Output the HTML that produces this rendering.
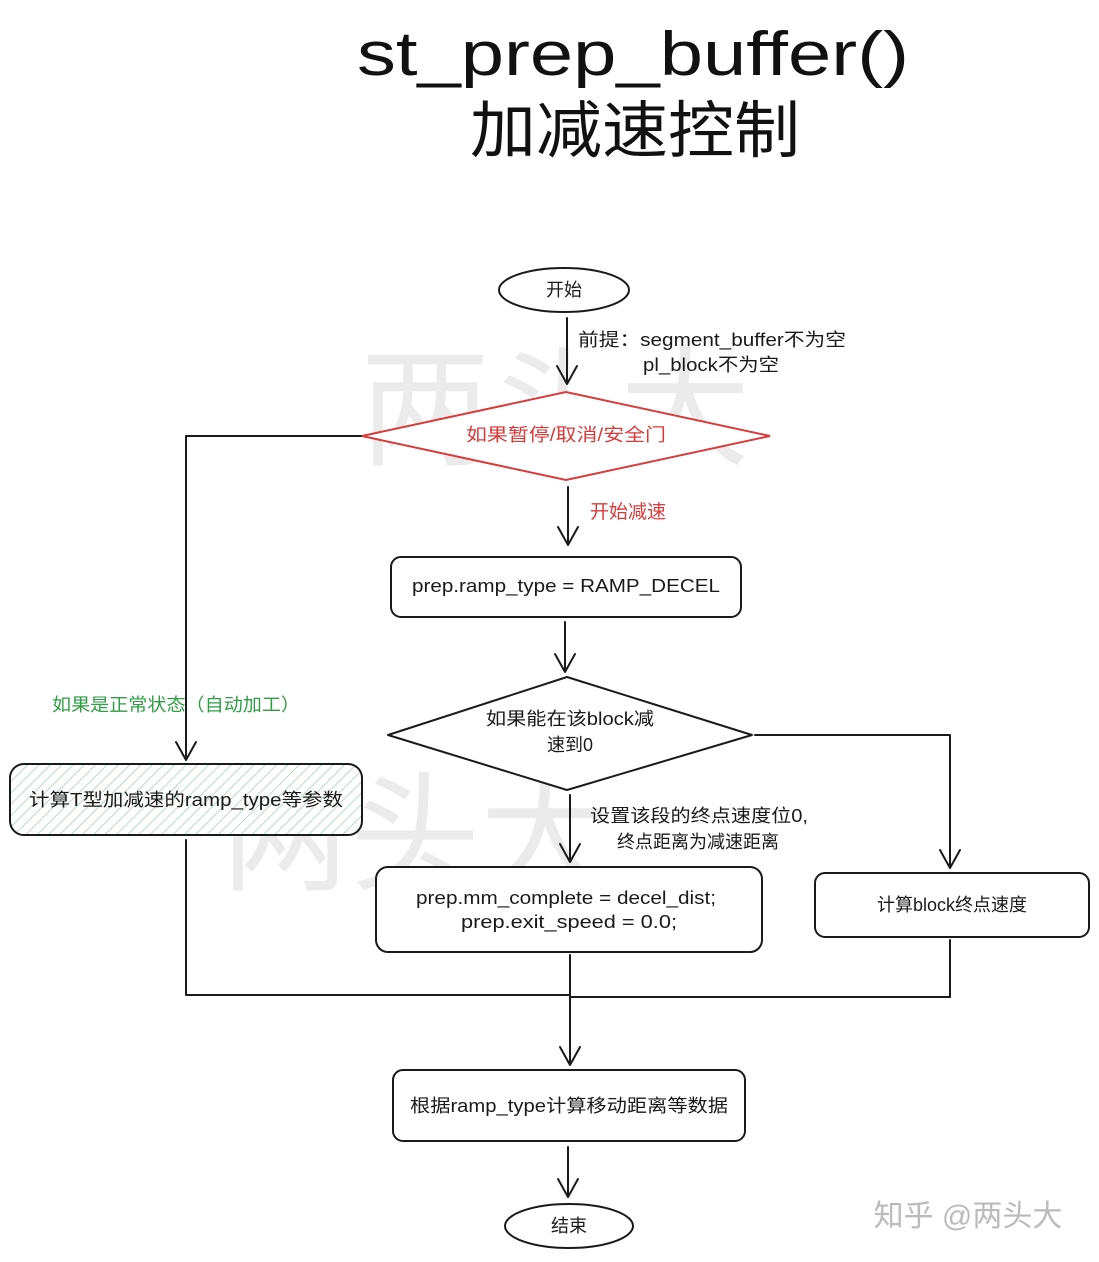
<!DOCTYPE html>
<html><head><meta charset="utf-8"><style>
html,body{margin:0;padding:0;background:#fff;}
svg{display:block;}
text{font-family:"Liberation Sans","Noto Sans CJK SC",sans-serif;}
</style></head><body>
<svg width="1099" height="1262" viewBox="0 0 1099 1262" xmlns="http://www.w3.org/2000/svg">
<defs>
<pattern id="h" width="8" height="8" patternUnits="userSpaceOnUse" patternTransform="rotate(45)">
<rect width="8" height="8" fill="#fff"/><line x1="0" y1="0" x2="0" y2="8" stroke="#9ed4a8" stroke-width="1.5"/>
</pattern>
</defs>
<!-- watermarks -->
<text x="555" y="455" font-size="130" fill="#ebebeb" text-anchor="middle">两头大</text>
<text x="415" y="880" font-size="130" fill="#ebebeb" text-anchor="middle">两头大</text>
<text x="968" y="1226" font-size="30" fill="#bbb" text-anchor="middle">知乎 @两头大</text>

<!-- title -->
<text x="357" y="75" font-size="62" fill="#111" textLength="552" lengthAdjust="spacingAndGlyphs">st_prep_buffer()</text>
<text x="470" y="152" font-size="62" fill="#111" textLength="330" lengthAdjust="spacingAndGlyphs">加减速控制</text>

<g fill="none" stroke="#1a1a1a" stroke-width="2" stroke-linecap="round" stroke-linejoin="round">
<ellipse cx="564" cy="290" rx="65" ry="22" fill="#fff"/>
<path d="M567 318 V384 M557 366 L567 384 L577 366"/>
<path d="M568 487 V545 M558 527 L568 545 L578 527"/>
<rect x="391" y="557" width="350" height="60" rx="10" fill="#fff"/>
<path d="M565 622 V672 M555 654 L565 672 L575 654"/>
<polygon points="388,735 567,677 752,735 567,790" fill="#fff"/>
<path d="M755 735 H950 V868 M940 850 L950 868 L960 850"/>
<path d="M570 795 V862 M560 844 L570 862 L580 844"/>
<rect x="376" y="867" width="386" height="85" rx="12" fill="#fff"/>
<rect x="815" y="873" width="274" height="64" rx="10" fill="#fff"/>
<path d="M362 436 H186 V760 M176 742 L186 760 L196 742"/>
<rect x="10" y="764" width="352" height="71" rx="14" fill="url(#h)"/>
<path d="M186 840 V995 H570 M950 940 V997 H570 M570 955 V1065 M560 1047 L570 1065 L580 1047"/>
<rect x="393" y="1070" width="352" height="71" rx="10" fill="#fff"/>
<path d="M568 1147 V1197 M558 1179 L568 1197 L578 1179"/>
<ellipse cx="569" cy="1226" rx="64" ry="22" fill="#fff"/>
</g>
<polygon points="362,436 566,392 770,436 566,480" fill="#fff" stroke="#d93a3a" stroke-width="2"/>

<g font-size="18" fill="#1a1a1a" text-anchor="middle">
<text x="564" y="296">开始</text>
<text x="566" y="441" fill="#d93a3a" textLength="200" lengthAdjust="spacingAndGlyphs">如果暂停/取消/安全门</text>
<text x="566" y="592" textLength="308" lengthAdjust="spacingAndGlyphs">prep.ramp_type = RAMP_DECEL</text>
<text x="570" y="725" textLength="168" lengthAdjust="spacingAndGlyphs">如果能在该block减</text>
<text x="570" y="751">速到0</text>
<text x="566" y="904" textLength="300" lengthAdjust="spacingAndGlyphs">prep.mm_complete = decel_dist;</text>
<text x="569" y="928" textLength="216" lengthAdjust="spacingAndGlyphs">prep.exit_speed = 0.0;</text>
<text x="952" y="911">计算block终点速度</text>
<text x="186" y="806" textLength="314" lengthAdjust="spacingAndGlyphs">计算T型加减速的ramp_type等参数</text>
<text x="569" y="1112" textLength="318" lengthAdjust="spacingAndGlyphs">根据ramp_type计算移动距离等数据</text>
<text x="569" y="1232">结束</text>
</g>
<g font-size="18" fill="#1a1a1a">
<text x="578" y="346" textLength="268" lengthAdjust="spacingAndGlyphs">前提：segment_buffer不为空</text>
<text x="643" y="371" textLength="136" lengthAdjust="spacingAndGlyphs">pl_block不为空</text>
<text x="590" y="518" fill="#d93a3a" font-size="19">开始减速</text>
<text x="590" y="822" textLength="218" lengthAdjust="spacingAndGlyphs">设置该段的终点速度位0,</text>
<text x="617" y="848">终点距离为减速距离</text>
<text x="52" y="711" fill="#2f9e44" textLength="248" lengthAdjust="spacingAndGlyphs">如果是正常状态（自动加工）</text>
</g>
</svg>
</body></html>
